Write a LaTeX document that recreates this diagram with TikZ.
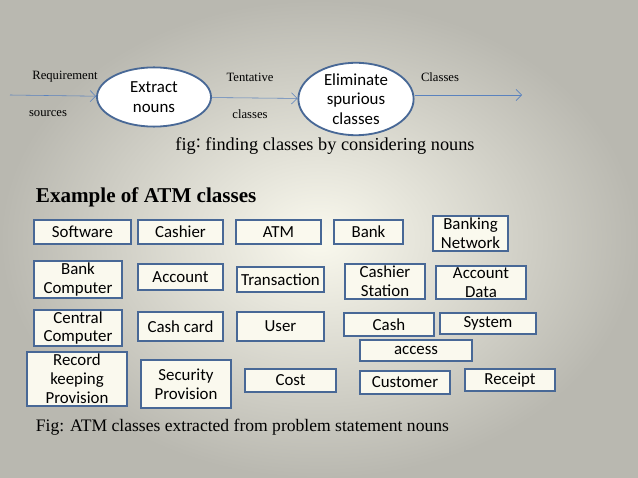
\documentclass[tikz,border=0pt]{standalone}
\usepackage{fontspec}
\setmainfont{Liberation Serif}
\newfontfamily\boxfont{Carlito}
\usetikzlibrary{shapes.geometric,arrows.meta}
\definecolor{boxblue}{RGB}{72,104,150}
\definecolor{flowblue}{RGB}{90,130,190}
\definecolor{paper}{RGB}{250,249,238}
\definecolor{edge}{RGB}{185,184,176}

\begin{document}
\begin{tikzpicture}[x=0.025cm,y=-0.025cm,
    cls/.style={draw=boxblue, line width=1.1pt, fill=paper, font=\boxfont\fontsize{12}{13.5}\selectfont,
        align=center, inner sep=0pt},
    proc/.style={ellipse, draw=boxblue, line width=1.3pt, fill=white, font=\boxfont\fontsize{12}{14}\selectfont,
        align=center, inner sep=0pt},
    flow/.style={draw=flowblue, -{Straight Barb[length=4pt]}},
    note/.style={font=\fontsize{9}{10}\selectfont}]
    % background
    \shade[inner color=paper, outer color=edge] (0,0) rectangle (638,478);
    \useasboundingbox (0,0) rectangle (638,478);

    % process
    \node[proc, minimum width=2.85cm, minimum height=1.48cm] (extract) at (154,97) {Extract\\nouns};
    \node[proc, minimum width=2.88cm, minimum height=1.6cm] (elim) at (356,99) {Eliminate\\spurious\\classes};
    \coordinate (in) at (10,95);
    \coordinate (out) at (522,95);
    \draw[flow] (in) -- (extract);
    \draw[flow] (extract) -- (elim);
    \draw[flow] (elim.east |- out) -- (out);
    \node[note] at (65,77) {Requirement};
    \node[note] at (48,114) {sources};
    \node[note] at (250,77) {Tentative};
    \node[note] at (250,114) {classes};
    \node[note] at (440,77) {Classes};
    \node[font=\fontsize{13}{15}\selectfont] at (325,146) {fig\raisebox{2pt}{:} finding classes by considering nouns};

    \node[anchor=west, font=\bfseries\fontsize{15}{17}\selectfont] at (31,197) {Example of ATM classes};

    % classes
    \foreach \name/\xa/\ya/\xb/\yb/\txt in {
        software/34/220/131/244/Software,
        cashier/138/220/223/244/Cashier,
        atm/236/220/321/244/ATM,
        bank/334/220/403/244/Bank,
        banknet/433/216/508/251/{Banking\\Network},
        bankcomp/34/261/122/298/{Bank\\Computer},
        account/138/264/223/290/Account,
        transaction/237/267/324/292/Transaction,
        station/345/264/425/299/{Cashier\\Station},
        accdata/436/266/526/299/{Account\\Data},
        central/34/310/122/346/{Central\\Computer},
        cashcard/138/312/223/341/Cash card,
        user/237/312/324/341/User,
        cash/344/313/434/336/Cash,
        system/440/313/536/334/System,
        access/360/340/472/361/access,
        record/27/352/127/406/{Record\\keeping\\Provision},
        security/141/360/231/408/{Security\\Provision},
        cost/245/369/336/392/Cost,
        customer/360/371/450/394/Customer,
        receipt/465/369/555/391/Receipt}
    {
        \node[cls, minimum width={(\xb-\xa)*0.025cm}, minimum height={(\yb-\ya)*0.025cm}]
            (\name) at ({(\xa+\xb)/2},{(\ya+\yb)/2}) {\txt};
    }

    \node[anchor=west, font=\fontsize{12.5}{14}\selectfont] at (31,427) {Fig: ATM classes extracted from problem statement nouns};
\end{tikzpicture}
\end{document}
